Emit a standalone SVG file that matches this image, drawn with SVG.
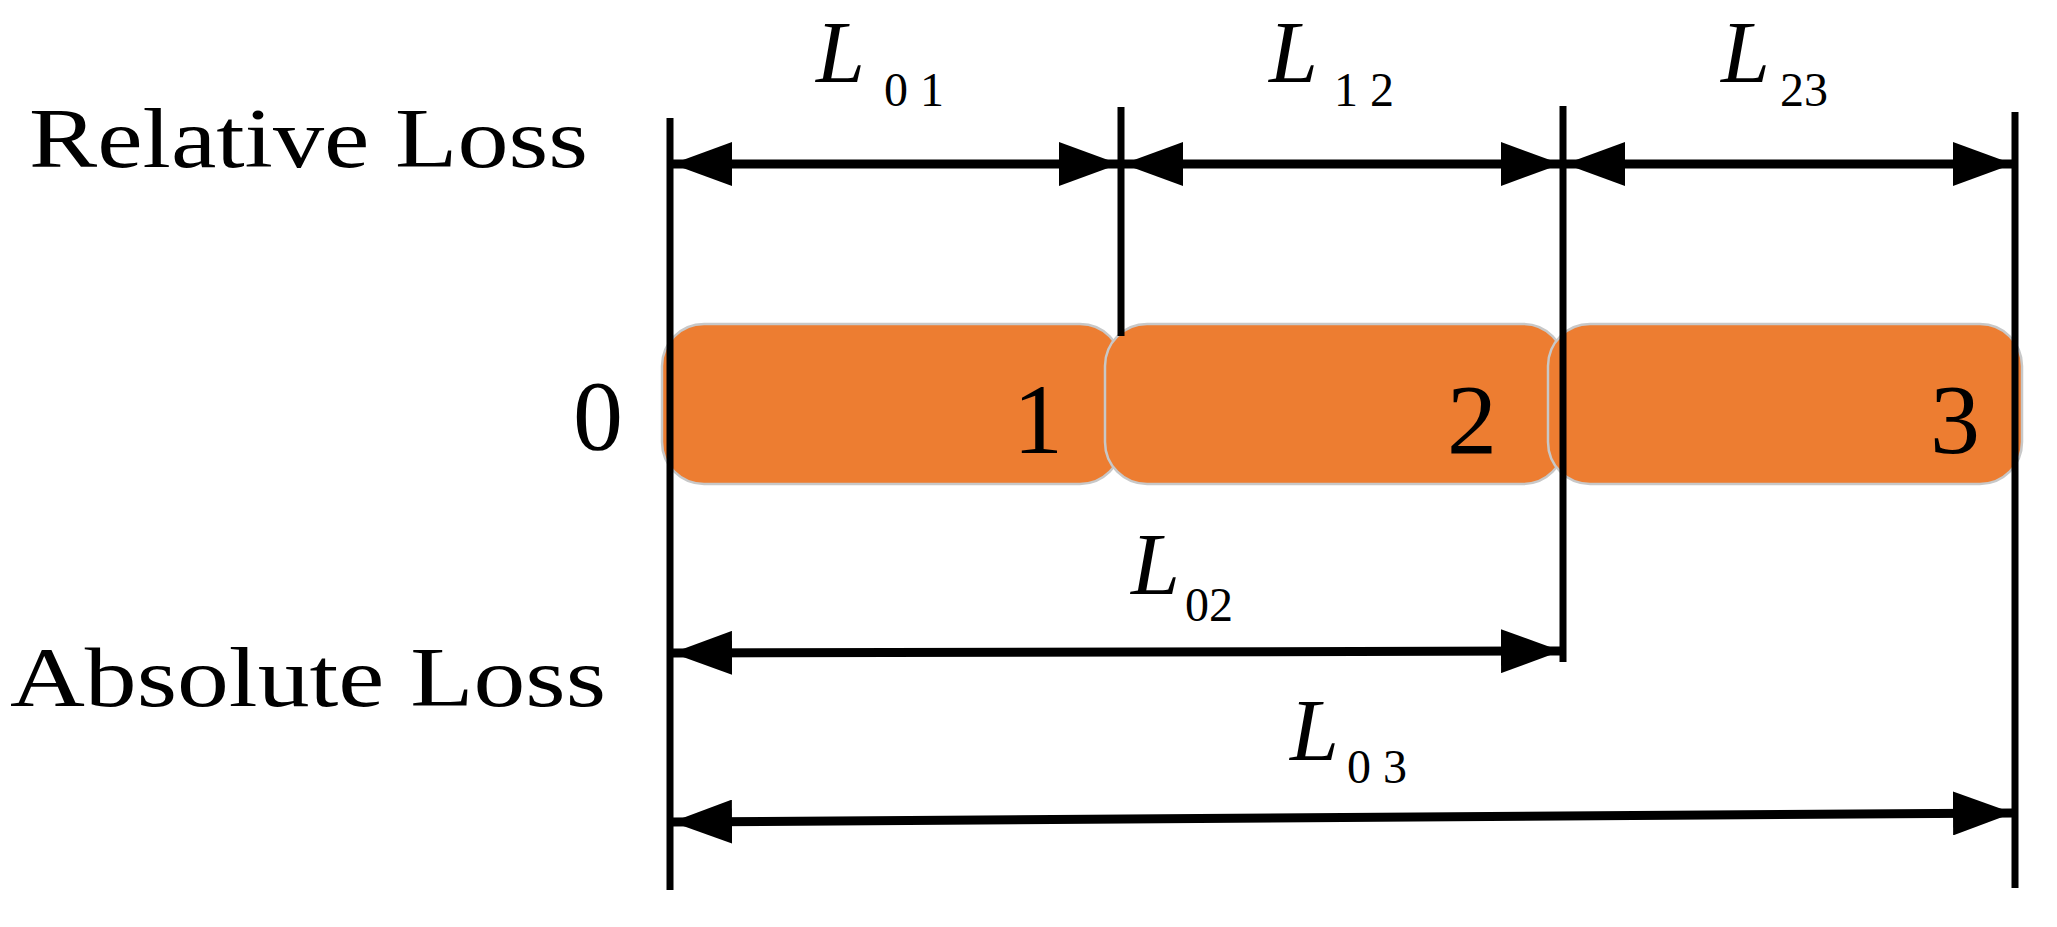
<svg xmlns="http://www.w3.org/2000/svg" width="2057" height="927" viewBox="0 0 2057 927">
<style>
.t{font-family:"Liberation Serif","Times New Roman",serif;fill:#000}
.L{font-style:italic;font-size:88px}
.s{font-size:48px}
.v{stroke:#000;stroke-width:7;fill:none}
.a{stroke:#000;stroke-width:9;fill:none}
.box{fill:#ED7D31;stroke:#C8C8C8;stroke-width:2.5}
</style>
<defs>
<marker id="h" viewBox="0 0 60 44" refX="60" refY="22" markerWidth="60" markerHeight="44" markerUnits="userSpaceOnUse" orient="auto-start-reverse">
<path d="M0,0 L60,22 L0,44 Z" fill="#000"/>
</marker>
</defs>
<rect width="2057" height="927" fill="#fff"/>
<g id="node1"><rect class="box" x="662" y="324" width="460" height="160" rx="42"/><text class="t" x="1038" y="453" font-size="100" text-anchor="middle">1</text></g>
<g id="node2"><rect class="box" x="1105" y="324" width="460" height="160" rx="42"/><text class="t" x="1472" y="453" font-size="100" text-anchor="middle">2</text></g>
<g id="node3"><rect class="box" x="1548" y="324" width="474" height="160" rx="42"/><text class="t" x="1955" y="453" font-size="100" text-anchor="middle">3</text></g>
<g id="labels">
<text class="t" x="29" y="167" font-size="84" textLength="559" lengthAdjust="spacingAndGlyphs">Relative Loss</text>
<text class="t" x="10" y="706" font-size="84" textLength="596" lengthAdjust="spacingAndGlyphs">Absolute Loss</text>
<text class="t" x="598" y="449" font-size="100" text-anchor="middle">0</text>
<text class="t"><tspan class="L" x="816" y="82">L</tspan><tspan class="s" x="884" y="106">0 1</tspan></text>
<text class="t"><tspan class="L" x="1269" y="82">L</tspan><tspan class="s" x="1334" y="106">1 2</tspan></text>
<text class="t"><tspan class="L" x="1721" y="82">L</tspan><tspan class="s" x="1780" y="106">23</tspan></text>
<text class="t"><tspan class="L" x="1131" y="594">L</tspan><tspan class="s" x="1185" y="621">02</tspan></text>
<text class="t"><tspan class="L" x="1290" y="760">L</tspan><tspan class="s" x="1347" y="783">0 3</tspan></text>
</g>
<g id="connectors">
<line class="v" x1="670" y1="118" x2="670" y2="890"/>
<line class="v" x1="1121" y1="107" x2="1121" y2="336"/>
<line class="v" x1="1563" y1="106" x2="1563" y2="662"/>
<line class="v" x1="2015" y1="112" x2="2015" y2="888"/>
<line class="a" x1="672" y1="164" x2="1119" y2="164" marker-start="url(#h)" marker-end="url(#h)"/>
<line class="a" x1="1123" y1="164" x2="1561" y2="164" marker-start="url(#h)" marker-end="url(#h)"/>
<line class="a" x1="1565" y1="164" x2="2013" y2="164" marker-start="url(#h)" marker-end="url(#h)"/>
<line class="a" x1="672" y1="653" x2="1561" y2="651" marker-start="url(#h)" marker-end="url(#h)"/>
<line class="a" x1="672" y1="822" x2="2013" y2="813" marker-start="url(#h)" marker-end="url(#h)"/>
</g>
</svg>
